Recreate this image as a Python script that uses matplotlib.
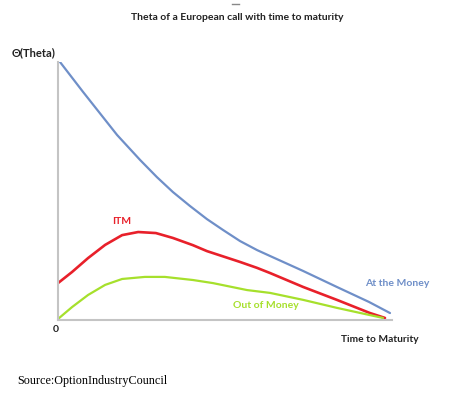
import matplotlib
matplotlib.use("Agg")
import matplotlib.pyplot as plt
from matplotlib.lines import Line2D

# Data (time to maturity, theta magnitude)
atm_x = [0.06, 0.75, 1.77, 2.46, 2.96, 3.44, 3.95, 4.46, 4.94, 5.45, 5.96, 6.35, 7.34, 8.35, 9.31, 9.94]
atm_y = [10.0, 8.84, 7.17, 6.20, 5.54, 4.96, 4.42, 3.91, 3.49, 3.06, 2.71, 2.48, 1.90, 1.28, 0.70, 0.27]

itm_x = [0.0, 0.42, 0.90, 1.41, 1.92, 2.40, 2.93, 3.44, 4.04, 4.46, 5.45, 5.96, 6.35, 7.34, 8.35, 9.34, 9.79]
itm_y = [1.43, 1.86, 2.40, 2.91, 3.29, 3.41, 3.37, 3.18, 2.90, 2.67, 2.25, 2.02, 1.82, 1.28, 0.78, 0.27, 0.08]

otm_x = [0.0, 0.42, 0.90, 1.41, 1.92, 2.60, 3.20, 4.04, 4.64, 5.66, 6.35, 7.34, 8.35, 9.34, 9.73]
otm_y = [0.04, 0.50, 0.97, 1.36, 1.59, 1.67, 1.67, 1.55, 1.43, 1.16, 1.05, 0.78, 0.47, 0.19, 0.08]

title = "Theta of a European call with time to maturity"
ylabel = "Θ(Theta)"
xlabel = "Time to Maturity"
source = "Source:OptionIndustryCouncil"

blue = "#6f8fc8"
red = "#e8202a"
green = "#a6e02c"
gray = "#c4c4c4"

fig = plt.figure(figsize=(4.74, 3.95), dpi=100)
ax = fig.add_axes([58/474, 75/395, 334/474, 258/395])
ax.plot(atm_x, atm_y, color=blue, lw=1.6, solid_capstyle='round', solid_joinstyle='round')
ax.plot(itm_x, itm_y, color=red, lw=1.9, solid_capstyle='round', solid_joinstyle='round')
ax.plot(otm_x, otm_y, color=green, lw=1.6, solid_capstyle='round', solid_joinstyle='round')
ax.set_xlim(0, 10)
ax.set_ylim(0, 10)
for s in ["top", "right"]:
    ax.spines[s].set_visible(False)
for s in ["left", "bottom"]:
    ax.spines[s].set_color(gray)
    ax.spines[s].set_linewidth(1.5)
ax.set_xticks([])
ax.set_yticks([])

fam = ["Lato", "DejaVu Sans"]
fig.text(237/474, 1 - 18/395, title, ha="center", va="center", fontsize=7.5, fontweight="bold", family=fam, color="#222222")
fig.text(56/474, 1 - 53/395, ylabel, ha="right", va="center", fontsize=8, fontweight="bold", family=fam, color="#222222")
fig.text(56/474, 1 - 330/395, "0", ha="center", va="center", fontsize=7.5, fontweight="bold", family=fam, color="#222222")
fig.text(380/474, 1 - 340/395, xlabel, ha="center", va="center", fontsize=7.3, fontweight="bold", family=fam, color="#222222")
fig.text(122/474, 1 - 222/395, "ITM", ha="center", va="center", fontsize=7.5, fontweight="bold", family=fam, color=red)
fig.text(266/474, 1 - 306/395, "Out of Money", ha="center", va="center", fontsize=7.5, fontweight="bold", family=fam, color=green)
fig.text(397/474, 1 - 283/395, "At the Money", ha="center", va="center", fontsize=7.5, fontweight="bold", family=fam, color=blue)
fig.text(17/474, 1 - 381/395, source, ha="left", va="center", fontsize=8.7, family=["Liberation Serif"], color="black")
fig.add_artist(Line2D([232/474, 239/474], [1 - 4/395, 1 - 4/395], color="#888888", lw=1))

fig.savefig("out.png", dpi=100)
